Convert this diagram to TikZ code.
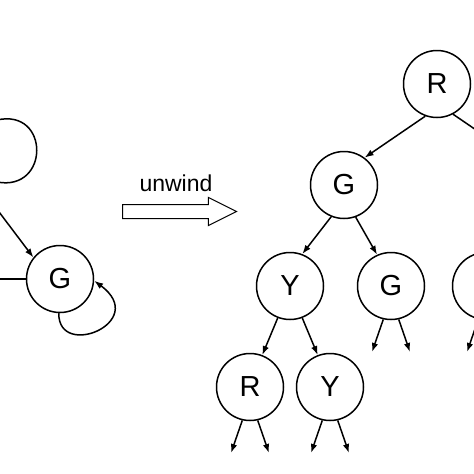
\documentclass[tikz,border=0pt]{standalone}
\usepackage{fontspec}
\setmainfont{Liberation Sans}
\usetikzlibrary{arrows.meta,shapes.arrows,calc}
\tikzset{
  main/.style={circle, minimum size = 67pt, inner sep = 0pt, line width = 1.5pt, draw = black, font = \fontsize{29}{29}\selectfont},
  connect/.style={-{Latex[length=9pt,width=6.5pt]}, line width = 1.5pt},
  link/.style={line width = 1.5pt}
}

\begin{document}
\begin{tikzpicture}[x=1pt, y=-1pt]
  \useasboundingbox (0,0) rectangle (474,474);
  \clip (0,0) rectangle (474,474);

  % Graph (left)
  \node[main] (G) at (60,279) {G};
  \coordinate (inG) at (-10,200);
  \coordinate (outG) at (-10,279);
  \path (inG) edge [connect] (G.141);
  \draw[link] (G.west) -- (outG);
  \draw[connect] (G.-92) .. controls (58,360) and (150,322) .. (G.-3);
  % loop of the node off to the left
  \coordinate (loopA) at (-3,120);
  \coordinate (loopB) at (-3,182);
  \draw[link] (loopA) .. controls (50,108) and (50,192) .. (loopB);

  % "unwind" arrow
  \node[draw, single arrow, line width = 1pt, inner xsep = 0pt, inner ysep = 6.5pt, minimum height = 114pt, minimum width = 27pt,
        single arrow head extend = 7pt, single arrow tip angle = 53, anchor = tail] (arrow) at (122,211.5) {};
  \node[font = \fontsize{23}{23}\selectfont] (unwind) at (176,183) {unwind};

  % Tree (right)
  \node[main] (R)  at (437,84)  {R};
  \node[main] (G1) at (344,185) {G};
  \node[main] (Y1) at (290,286) {Y};
  \node[main] (G2) at (391,286) {G};
  \node[main] (X)  at (486,286) {};
  \node[main] (R2) at (250,387) {R};
  \node[main] (Y2) at (330,387) {Y};
  \coordinate (Rr) at (520,160);

  \path (R.250)  edge [connect] (G1.53);
  \draw[link] (R.-62) -- (Rr);
  \path (G1.248) edge [connect] (Y1.69);
  \path (G1.290) edge [connect] (G2.114);
  \path (Y1.249) edge [connect] (R2.69);
  \path (Y1.291) edge [connect] (Y2.111);

  % Stubs
  \foreach \n in {G2, X, R2, Y2} {
    \coordinate (\n-l) at ($(\n)+(-19,66)$);
    \coordinate (\n-r) at ($(\n)+(19,66)$);
    \path (\n.257) edge [connect] (\n-l);
    \path (\n.283) edge [connect] (\n-r);
  }
\end{tikzpicture}
\end{document}
